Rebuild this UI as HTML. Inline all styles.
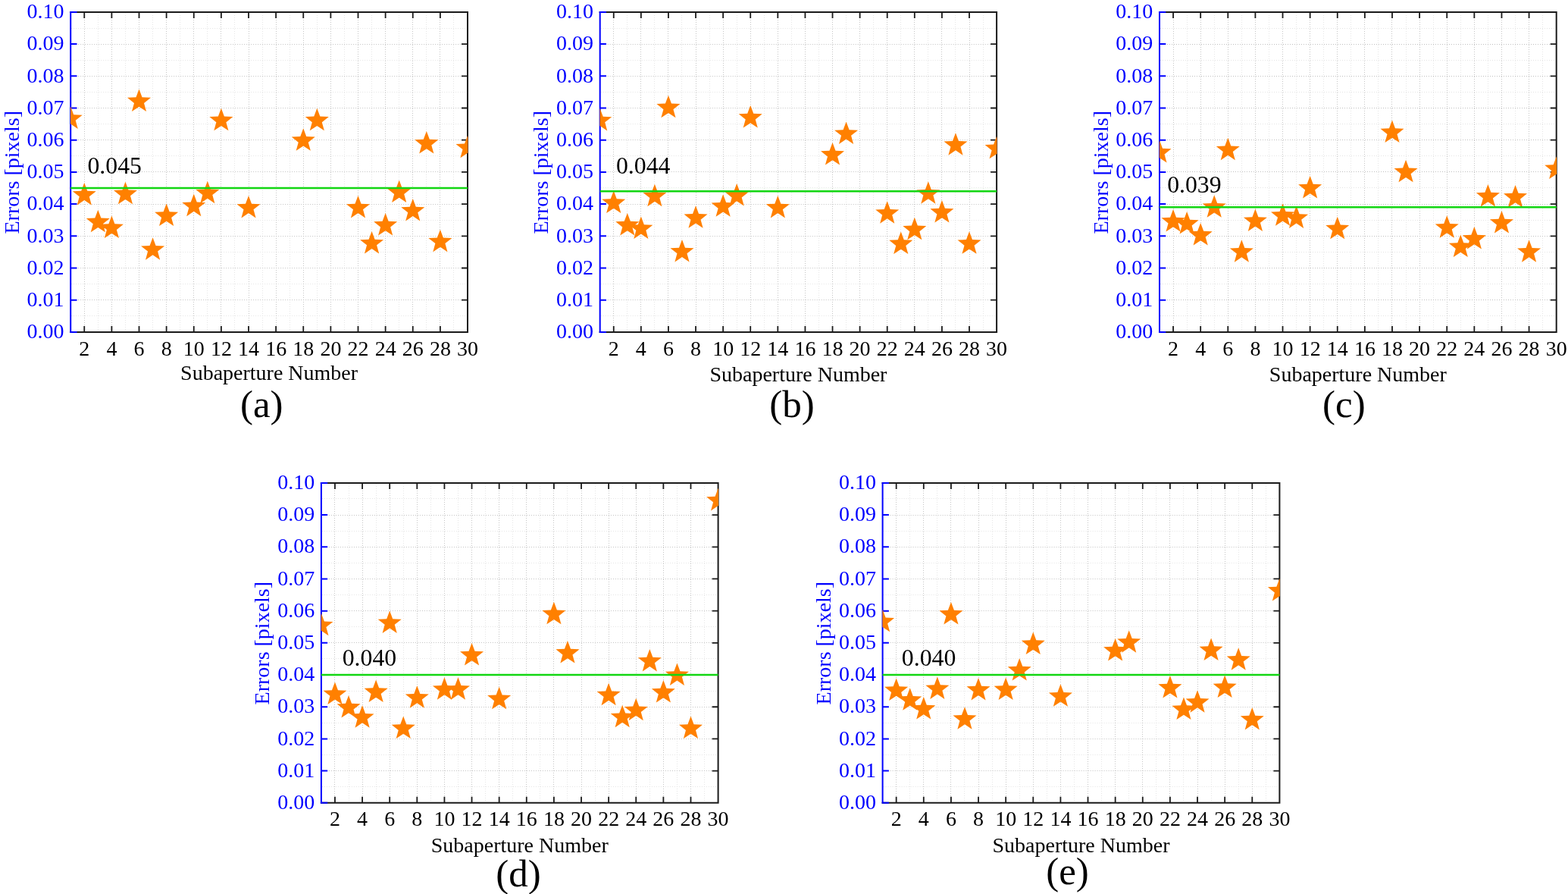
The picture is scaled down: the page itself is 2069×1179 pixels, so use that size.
<!DOCTYPE html>
<html><head><meta charset="utf-8"><title>Subaperture errors</title><style>
html,body{margin:0;padding:0;background:#fff;}
svg{display:block;}
text{font-family:"Liberation Serif","Times New Roman",serif;}
.tk{font-size:28px;}
.ttl{font-size:28px;}
.mn{font-size:31.8px;}
.pl{font-size:51px;}
</style></head><body>
<svg width="2069" height="1179" viewBox="0 0 2069 1179">
<rect width="100%" height="100%" fill="#fff"/>
<defs>
<clipPath id="clipa"><rect x="93" y="15.3" width="524.4" height="423.2"/></clipPath>
<clipPath id="clipb"><rect x="791.5" y="15.3" width="524" height="423.2"/></clipPath>
<clipPath id="clipc"><rect x="1529.8" y="15.3" width="524.3" height="423.2"/></clipPath>
<clipPath id="clipd"><rect x="423.7" y="636.3" width="524.3" height="423.1"/></clipPath>
<clipPath id="clipe"><rect x="1164.4" y="636.3" width="524.4" height="423.1"/></clipPath>
</defs>
<g id="panel-a">
<path d="M129.5 16.9V436.9M165.5 16.9V436.9M201.5 16.9V436.9M237.5 16.9V436.9M273.5 16.9V436.9M309.5 16.9V436.9M346.5 16.9V436.9M382.5 16.9V436.9M418.5 16.9V436.9M454.5 16.9V436.9M490.5 16.9V436.9M526.5 16.9V436.9M562.5 16.9V436.9M598.5 16.9V436.9M94.2 416.5H616M94.2 374.5H616M94.2 332.5H616M94.2 290.5H616M94.2 247.5H616M94.2 205.5H616M94.2 163.5H616M94.2 121.5H616M94.2 79.5H616M94.2 37.5H616" stroke="#e4e4e4" stroke-width="1" stroke-dasharray="1 2" fill="none"/>
<path d="M111.5 16.9V436.9M147.5 16.9V436.9M183.5 16.9V436.9M219.5 16.9V436.9M255.5 16.9V436.9M291.5 16.9V436.9M328.5 16.9V436.9M364.5 16.9V436.9M400.5 16.9V436.9M436.5 16.9V436.9M472.5 16.9V436.9M508.5 16.9V436.9M544.5 16.9V436.9M580.5 16.9V436.9M94.2 395.5H616M94.2 353.5H616M94.2 311.5H616M94.2 269.5H616M94.2 226.5H616M94.2 184.5H616M94.2 142.5H616M94.2 100.5H616M94.2 58.5H616" stroke="#c0c0c0" stroke-width="1" stroke-dasharray="1 2" fill="none"/>
<path d="M93.2 15.9H617V437.9H93.2" stroke="#1a1a1a" stroke-width="2" fill="none" stroke-linejoin="miter" stroke-linecap="square"/>
<path d="M111.26 15.9v8M111.26 437.9v-8M147.39 15.9v8M147.39 437.9v-8M183.51 15.9v8M183.51 437.9v-8M219.63 15.9v8M219.63 437.9v-8M255.76 15.9v8M255.76 437.9v-8M291.88 15.9v8M291.88 437.9v-8M328.01 15.9v8M328.01 437.9v-8M364.13 15.9v8M364.13 437.9v-8M400.26 15.9v8M400.26 437.9v-8M436.38 15.9v8M436.38 437.9v-8M472.5 15.9v8M472.5 437.9v-8M508.63 15.9v8M508.63 437.9v-8M544.75 15.9v8M544.75 437.9v-8M580.88 15.9v8M580.88 437.9v-8M617 395.7h-8M617 353.5h-8M617 311.3h-8M617 269.1h-8M617 226.9h-8M617 184.7h-8M617 142.5h-8M617 100.3h-8M617 58.1h-8" stroke="#1a1a1a" stroke-width="1.8" fill="none"/>
<path d="M93.2 14.9V438.9M93.2 437.9h8.3M93.2 395.7h8.3M93.2 353.5h8.3M93.2 311.3h8.3M93.2 269.1h8.3M93.2 226.9h8.3M93.2 184.7h8.3M93.2 142.5h8.3M93.2 100.3h8.3M93.2 58.1h8.3M93.2 15.9h8.3" stroke="#0000ff" stroke-width="2" fill="none"/>
<path d="M93.20 140.45 L97.22 151.21 L108.70 151.71 L99.71 158.87 L102.78 169.94 L93.20 163.60 L83.62 169.94 L86.69 158.87 L77.70 151.71 L89.18 151.21ZM111.26 240.90 L115.29 251.66 L126.76 252.16 L117.77 259.32 L120.84 270.39 L111.26 264.05 L101.68 270.39 L104.75 259.32 L95.76 252.16 L107.24 251.66ZM129.32 276.80 L133.35 287.56 L144.83 288.06 L135.84 295.22 L138.91 306.29 L129.32 299.95 L119.74 306.29 L122.81 295.22 L113.82 288.06 L125.30 287.56ZM147.39 284.60 L151.41 295.36 L162.89 295.86 L153.90 303.02 L156.97 314.09 L147.39 307.75 L137.81 314.09 L140.88 303.02 L131.88 295.86 L143.36 295.36ZM165.45 239.80 L169.47 250.56 L180.95 251.06 L171.96 258.22 L175.03 269.29 L165.45 262.95 L155.87 269.29 L158.94 258.22 L149.95 251.06 L161.42 250.56ZM183.51 117.60 L187.53 128.36 L199.01 128.86 L190.02 136.02 L193.09 147.09 L183.51 140.75 L173.93 147.09 L177.00 136.02 L168.01 128.86 L179.49 128.36ZM201.57 313.20 L205.60 323.96 L217.07 324.46 L208.08 331.62 L211.15 342.69 L201.57 336.35 L191.99 342.69 L195.06 331.62 L186.07 324.46 L197.55 323.96ZM219.63 268.50 L223.66 279.26 L235.14 279.76 L226.15 286.92 L229.22 297.99 L219.63 291.65 L210.05 297.99 L213.12 286.92 L204.13 279.76 L215.61 279.26ZM255.76 255.70 L259.78 266.46 L271.26 266.96 L262.27 274.12 L265.34 285.19 L255.76 278.85 L246.18 285.19 L249.25 274.12 L240.26 266.96 L251.73 266.46ZM273.82 238.70 L277.84 249.46 L289.32 249.96 L280.33 257.12 L283.40 268.19 L273.82 261.85 L264.24 268.19 L267.31 257.12 L258.32 249.96 L269.80 249.46ZM291.88 142.80 L295.91 153.56 L307.38 154.06 L298.39 161.22 L301.46 172.29 L291.88 165.95 L282.30 172.29 L285.37 161.22 L276.38 154.06 L287.86 153.56ZM328.01 257.90 L332.03 268.66 L343.51 269.16 L334.52 276.32 L337.59 287.39 L328.01 281.05 L318.43 287.39 L321.50 276.32 L312.50 269.16 L323.98 268.66ZM400.26 169.30 L404.28 180.06 L415.76 180.56 L406.77 187.72 L409.84 198.79 L400.26 192.45 L390.67 198.79 L393.74 187.72 L384.75 180.56 L396.23 180.06ZM418.32 142.80 L422.34 153.56 L433.82 154.06 L424.83 161.22 L427.90 172.29 L418.32 165.95 L408.74 172.29 L411.81 161.22 L402.82 154.06 L414.29 153.56ZM472.50 257.90 L476.53 268.66 L488.01 269.16 L479.01 276.32 L482.08 287.39 L472.50 281.05 L462.92 287.39 L465.99 276.32 L457.00 269.16 L468.48 268.66ZM490.57 304.90 L494.59 315.66 L506.07 316.16 L497.08 323.32 L500.15 334.39 L490.57 328.05 L480.98 334.39 L484.05 323.32 L475.06 316.16 L486.54 315.66ZM508.63 281.10 L512.65 291.86 L524.13 292.36 L515.14 299.52 L518.21 310.59 L508.63 304.25 L499.05 310.59 L502.12 299.52 L493.13 292.36 L504.60 291.86ZM526.69 237.60 L530.71 248.36 L542.19 248.86 L533.20 256.02 L536.27 267.09 L526.69 260.75 L517.11 267.09 L520.18 256.02 L511.19 248.86 L522.67 248.36ZM544.75 261.90 L548.78 272.66 L560.25 273.16 L551.26 280.32 L554.33 291.39 L544.75 285.05 L535.17 291.39 L538.24 280.32 L529.25 273.16 L540.73 272.66ZM562.81 173.00 L566.84 183.76 L578.32 184.26 L569.32 191.42 L572.39 202.49 L562.81 196.15 L553.23 202.49 L556.30 191.42 L547.31 184.26 L558.79 183.76ZM580.88 302.70 L584.90 313.46 L596.38 313.96 L587.39 321.12 L590.46 332.19 L580.88 325.85 L571.29 332.19 L574.36 321.12 L565.37 313.96 L576.85 313.46ZM617.00 178.70 L621.02 189.46 L632.50 189.96 L623.51 197.12 L626.58 208.19 L617.00 201.85 L607.42 208.19 L610.49 197.12 L601.50 189.96 L612.98 189.46Z" fill="#ff8000" clip-path="url(#clipa)"/>
<path d="M93.2 248H617" stroke="#12d612" stroke-width="2.4" fill="none"/>
<text class="tk" x="84.5" y="446.1" text-anchor="end" fill="#0000ff">0.00</text>
<text class="tk" x="84.5" y="403.9" text-anchor="end" fill="#0000ff">0.01</text>
<text class="tk" x="84.5" y="361.7" text-anchor="end" fill="#0000ff">0.02</text>
<text class="tk" x="84.5" y="319.5" text-anchor="end" fill="#0000ff">0.03</text>
<text class="tk" x="84.5" y="277.3" text-anchor="end" fill="#0000ff">0.04</text>
<text class="tk" x="84.5" y="235.1" text-anchor="end" fill="#0000ff">0.05</text>
<text class="tk" x="84.5" y="192.9" text-anchor="end" fill="#0000ff">0.06</text>
<text class="tk" x="84.5" y="150.7" text-anchor="end" fill="#0000ff">0.07</text>
<text class="tk" x="84.5" y="108.5" text-anchor="end" fill="#0000ff">0.08</text>
<text class="tk" x="84.5" y="66.3" text-anchor="end" fill="#0000ff">0.09</text>
<text class="tk" x="84.5" y="24.1" text-anchor="end" fill="#0000ff">0.10</text>
<text class="tk" x="111.26" y="468.5" text-anchor="middle" fill="#000">2</text>
<text class="tk" x="147.39" y="468.5" text-anchor="middle" fill="#000">4</text>
<text class="tk" x="183.51" y="468.5" text-anchor="middle" fill="#000">6</text>
<text class="tk" x="219.63" y="468.5" text-anchor="middle" fill="#000">8</text>
<text class="tk" x="255.76" y="468.5" text-anchor="middle" fill="#000">10</text>
<text class="tk" x="291.88" y="468.5" text-anchor="middle" fill="#000">12</text>
<text class="tk" x="328.01" y="468.5" text-anchor="middle" fill="#000">14</text>
<text class="tk" x="364.13" y="468.5" text-anchor="middle" fill="#000">16</text>
<text class="tk" x="400.26" y="468.5" text-anchor="middle" fill="#000">18</text>
<text class="tk" x="436.38" y="468.5" text-anchor="middle" fill="#000">20</text>
<text class="tk" x="472.5" y="468.5" text-anchor="middle" fill="#000">22</text>
<text class="tk" x="508.63" y="468.5" text-anchor="middle" fill="#000">24</text>
<text class="tk" x="544.75" y="468.5" text-anchor="middle" fill="#000">26</text>
<text class="tk" x="580.88" y="468.5" text-anchor="middle" fill="#000">28</text>
<text class="tk" x="617" y="468.5" text-anchor="middle" fill="#000">30</text>
<text class="ttl" x="355.1" y="500.9" text-anchor="middle" fill="#000">Subaperture Number</text>
<text class="ttl" transform="translate(24.7 227.25) rotate(-90)" x="0" y="0" text-anchor="middle" fill="#0000ff">Errors [pixels]</text>
<text class="mn" x="115.43" y="229" fill="#000">0.045</text>
<text class="pl" x="345.3" y="550.4" text-anchor="middle" fill="#000">(a)</text>
</g>
<g id="panel-b">
<path d="M827.5 16.9V436.9M863.5 16.9V436.9M899.5 16.9V436.9M936.5 16.9V436.9M972.5 16.9V436.9M1008.5 16.9V436.9M1044.5 16.9V436.9M1080.5 16.9V436.9M1116.5 16.9V436.9M1152.5 16.9V436.9M1188.5 16.9V436.9M1224.5 16.9V436.9M1260.5 16.9V436.9M1297.5 16.9V436.9M792.7 416.5H1314.1M792.7 374.5H1314.1M792.7 332.5H1314.1M792.7 290.5H1314.1M792.7 247.5H1314.1M792.7 205.5H1314.1M792.7 163.5H1314.1M792.7 121.5H1314.1M792.7 79.5H1314.1M792.7 37.5H1314.1" stroke="#e4e4e4" stroke-width="1" stroke-dasharray="1 2" fill="none"/>
<path d="M809.5 16.9V436.9M845.5 16.9V436.9M881.5 16.9V436.9M918.5 16.9V436.9M954.5 16.9V436.9M990.5 16.9V436.9M1026.5 16.9V436.9M1062.5 16.9V436.9M1098.5 16.9V436.9M1134.5 16.9V436.9M1170.5 16.9V436.9M1206.5 16.9V436.9M1242.5 16.9V436.9M1279.5 16.9V436.9M792.7 395.5H1314.1M792.7 353.5H1314.1M792.7 311.5H1314.1M792.7 269.5H1314.1M792.7 226.5H1314.1M792.7 184.5H1314.1M792.7 142.5H1314.1M792.7 100.5H1314.1M792.7 58.5H1314.1" stroke="#c0c0c0" stroke-width="1" stroke-dasharray="1 2" fill="none"/>
<path d="M791.7 15.9H1315.1V437.9H791.7" stroke="#1a1a1a" stroke-width="2" fill="none" stroke-linejoin="miter" stroke-linecap="square"/>
<path d="M809.75 15.9v8M809.75 437.9v-8M845.84 15.9v8M845.84 437.9v-8M881.94 15.9v8M881.94 437.9v-8M918.04 15.9v8M918.04 437.9v-8M954.13 15.9v8M954.13 437.9v-8M990.23 15.9v8M990.23 437.9v-8M1026.33 15.9v8M1026.33 437.9v-8M1062.42 15.9v8M1062.42 437.9v-8M1098.52 15.9v8M1098.52 437.9v-8M1134.62 15.9v8M1134.62 437.9v-8M1170.71 15.9v8M1170.71 437.9v-8M1206.81 15.9v8M1206.81 437.9v-8M1242.91 15.9v8M1242.91 437.9v-8M1279 15.9v8M1279 437.9v-8M1315.1 395.7h-8M1315.1 353.5h-8M1315.1 311.3h-8M1315.1 269.1h-8M1315.1 226.9h-8M1315.1 184.7h-8M1315.1 142.5h-8M1315.1 100.3h-8M1315.1 58.1h-8" stroke="#1a1a1a" stroke-width="1.8" fill="none"/>
<path d="M791.7 14.9V438.9M791.7 437.9h8.3M791.7 395.7h8.3M791.7 353.5h8.3M791.7 311.3h8.3M791.7 269.1h8.3M791.7 226.9h8.3M791.7 184.7h8.3M791.7 142.5h8.3M791.7 100.3h8.3M791.7 58.1h8.3M791.7 15.9h8.3" stroke="#0000ff" stroke-width="2" fill="none"/>
<path d="M791.70 142.90 L795.72 153.66 L807.20 154.16 L798.21 161.32 L801.28 172.39 L791.70 166.05 L782.12 172.39 L785.19 161.32 L776.20 154.16 L787.68 153.66ZM809.75 251.50 L813.77 262.26 L825.25 262.76 L816.26 269.92 L819.33 280.99 L809.75 274.65 L800.17 280.99 L803.24 269.92 L794.25 262.76 L805.72 262.26ZM827.80 281.00 L831.82 291.76 L843.30 292.26 L834.31 299.42 L837.38 310.49 L827.80 304.15 L818.22 310.49 L821.29 299.42 L812.29 292.26 L823.77 291.76ZM845.84 285.40 L849.87 296.16 L861.35 296.66 L852.36 303.82 L855.43 314.89 L845.84 308.55 L836.26 314.89 L839.33 303.82 L830.34 296.66 L841.82 296.16ZM863.89 242.70 L867.92 253.46 L879.40 253.96 L870.40 261.12 L873.47 272.19 L863.89 265.85 L854.31 272.19 L857.38 261.12 L848.39 253.96 L859.87 253.46ZM881.94 125.80 L885.97 136.56 L897.44 137.06 L888.45 144.22 L891.52 155.29 L881.94 148.95 L872.36 155.29 L875.43 144.22 L866.44 137.06 L877.92 136.56ZM899.99 315.90 L904.01 326.66 L915.49 327.16 L906.50 334.32 L909.57 345.39 L899.99 339.05 L890.41 345.39 L893.48 334.32 L884.49 327.16 L895.97 326.66ZM918.04 271.30 L922.06 282.06 L933.54 282.56 L924.55 289.72 L927.62 300.79 L918.04 294.45 L908.46 300.79 L911.53 289.72 L902.54 282.56 L914.01 282.06ZM954.13 256.30 L958.16 267.06 L969.64 267.56 L960.65 274.72 L963.72 285.79 L954.13 279.45 L944.55 285.79 L947.62 274.72 L938.63 267.56 L950.11 267.06ZM972.18 242.00 L976.21 252.76 L987.68 253.26 L978.69 260.42 L981.76 271.49 L972.18 265.15 L962.60 271.49 L965.67 260.42 L956.68 253.26 L968.16 252.76ZM990.23 139.00 L994.26 149.76 L1005.73 150.26 L996.74 157.42 L999.81 168.49 L990.23 162.15 L980.65 168.49 L983.72 157.42 L974.73 150.26 L986.21 149.76ZM1026.33 257.90 L1030.35 268.66 L1041.83 269.16 L1032.84 276.32 L1035.91 287.39 L1026.33 281.05 L1016.75 287.39 L1019.82 276.32 L1010.83 269.16 L1022.30 268.66ZM1098.52 188.00 L1102.54 198.76 L1114.02 199.26 L1105.03 206.42 L1108.10 217.49 L1098.52 211.15 L1088.94 217.49 L1092.01 206.42 L1083.02 199.26 L1094.50 198.76ZM1116.57 160.40 L1120.59 171.16 L1132.07 171.66 L1123.08 178.82 L1126.15 189.89 L1116.57 183.55 L1106.99 189.89 L1110.06 178.82 L1101.07 171.66 L1112.54 171.16ZM1170.71 265.20 L1174.74 275.96 L1186.22 276.46 L1177.22 283.62 L1180.29 294.69 L1170.71 288.35 L1161.13 294.69 L1164.20 283.62 L1155.21 276.46 L1166.69 275.96ZM1188.76 305.60 L1192.79 316.36 L1204.26 316.86 L1195.27 324.02 L1198.34 335.09 L1188.76 328.75 L1179.18 335.09 L1182.25 324.02 L1173.26 316.86 L1184.74 316.36ZM1206.81 286.80 L1210.83 297.56 L1222.31 298.06 L1213.32 305.22 L1216.39 316.29 L1206.81 309.95 L1197.23 316.29 L1200.30 305.22 L1191.31 298.06 L1202.79 297.56ZM1224.86 239.20 L1228.88 249.96 L1240.36 250.46 L1231.37 257.62 L1234.44 268.69 L1224.86 262.35 L1215.28 268.69 L1218.35 257.62 L1209.36 250.46 L1220.83 249.96ZM1242.91 264.10 L1246.93 274.86 L1258.41 275.36 L1249.42 282.52 L1252.49 293.59 L1242.91 287.25 L1233.33 293.59 L1236.40 282.52 L1227.40 275.36 L1238.88 274.86ZM1260.96 175.20 L1264.98 185.96 L1276.46 186.46 L1267.47 193.62 L1270.54 204.69 L1260.96 198.35 L1251.37 204.69 L1254.44 193.62 L1245.45 186.46 L1256.93 185.96ZM1279.00 305.30 L1283.03 316.06 L1294.51 316.56 L1285.51 323.72 L1288.58 334.79 L1279.00 328.45 L1269.42 334.79 L1272.49 323.72 L1263.50 316.56 L1274.98 316.06ZM1315.10 179.80 L1319.12 190.56 L1330.60 191.06 L1321.61 198.22 L1324.68 209.29 L1315.10 202.95 L1305.52 209.29 L1308.59 198.22 L1299.60 191.06 L1311.08 190.56Z" fill="#ff8000" clip-path="url(#clipb)"/>
<path d="M791.7 252.22H1315.1" stroke="#12d612" stroke-width="2.4" fill="none"/>
<text class="tk" x="783" y="446.1" text-anchor="end" fill="#0000ff">0.00</text>
<text class="tk" x="783" y="403.9" text-anchor="end" fill="#0000ff">0.01</text>
<text class="tk" x="783" y="361.7" text-anchor="end" fill="#0000ff">0.02</text>
<text class="tk" x="783" y="319.5" text-anchor="end" fill="#0000ff">0.03</text>
<text class="tk" x="783" y="277.3" text-anchor="end" fill="#0000ff">0.04</text>
<text class="tk" x="783" y="235.1" text-anchor="end" fill="#0000ff">0.05</text>
<text class="tk" x="783" y="192.9" text-anchor="end" fill="#0000ff">0.06</text>
<text class="tk" x="783" y="150.7" text-anchor="end" fill="#0000ff">0.07</text>
<text class="tk" x="783" y="108.5" text-anchor="end" fill="#0000ff">0.08</text>
<text class="tk" x="783" y="66.3" text-anchor="end" fill="#0000ff">0.09</text>
<text class="tk" x="783" y="24.1" text-anchor="end" fill="#0000ff">0.10</text>
<text class="tk" x="809.75" y="468.5" text-anchor="middle" fill="#000">2</text>
<text class="tk" x="845.84" y="468.5" text-anchor="middle" fill="#000">4</text>
<text class="tk" x="881.94" y="468.5" text-anchor="middle" fill="#000">6</text>
<text class="tk" x="918.04" y="468.5" text-anchor="middle" fill="#000">8</text>
<text class="tk" x="954.13" y="468.5" text-anchor="middle" fill="#000">10</text>
<text class="tk" x="990.23" y="468.5" text-anchor="middle" fill="#000">12</text>
<text class="tk" x="1026.33" y="468.5" text-anchor="middle" fill="#000">14</text>
<text class="tk" x="1062.42" y="468.5" text-anchor="middle" fill="#000">16</text>
<text class="tk" x="1098.52" y="468.5" text-anchor="middle" fill="#000">18</text>
<text class="tk" x="1134.62" y="468.5" text-anchor="middle" fill="#000">20</text>
<text class="tk" x="1170.71" y="468.5" text-anchor="middle" fill="#000">22</text>
<text class="tk" x="1206.81" y="468.5" text-anchor="middle" fill="#000">24</text>
<text class="tk" x="1242.91" y="468.5" text-anchor="middle" fill="#000">26</text>
<text class="tk" x="1279" y="468.5" text-anchor="middle" fill="#000">28</text>
<text class="tk" x="1315.1" y="468.5" text-anchor="middle" fill="#000">30</text>
<text class="ttl" x="1053.4" y="502.7" text-anchor="middle" fill="#000">Subaperture Number</text>
<text class="ttl" transform="translate(723.2 227.25) rotate(-90)" x="0" y="0" text-anchor="middle" fill="#0000ff">Errors [pixels]</text>
<text class="mn" x="812.93" y="229" fill="#000">0.044</text>
<text class="pl" x="1045" y="550.4" text-anchor="middle" fill="#000">(b)</text>
</g>
<g id="panel-c">
<path d="M1566.5 16.9V436.9M1602.5 16.9V436.9M1638.5 16.9V436.9M1674.5 16.9V436.9M1710.5 16.9V436.9M1746.5 16.9V436.9M1782.5 16.9V436.9M1818.5 16.9V436.9M1855.5 16.9V436.9M1891.5 16.9V436.9M1927.5 16.9V436.9M1963.5 16.9V436.9M1999.5 16.9V436.9M2035.5 16.9V436.9M1531 416.5H2052.7M1531 374.5H2052.7M1531 332.5H2052.7M1531 290.5H2052.7M1531 247.5H2052.7M1531 205.5H2052.7M1531 163.5H2052.7M1531 121.5H2052.7M1531 79.5H2052.7M1531 37.5H2052.7" stroke="#e4e4e4" stroke-width="1" stroke-dasharray="1 2" fill="none"/>
<path d="M1548.5 16.9V436.9M1584.5 16.9V436.9M1620.5 16.9V436.9M1656.5 16.9V436.9M1692.5 16.9V436.9M1728.5 16.9V436.9M1764.5 16.9V436.9M1800.5 16.9V436.9M1836.5 16.9V436.9M1873.5 16.9V436.9M1909.5 16.9V436.9M1945.5 16.9V436.9M1981.5 16.9V436.9M2017.5 16.9V436.9M1531 395.5H2052.7M1531 353.5H2052.7M1531 311.5H2052.7M1531 269.5H2052.7M1531 226.5H2052.7M1531 184.5H2052.7M1531 142.5H2052.7M1531 100.5H2052.7M1531 58.5H2052.7" stroke="#c0c0c0" stroke-width="1" stroke-dasharray="1 2" fill="none"/>
<path d="M1530 15.9H2053.7V437.9H1530" stroke="#1a1a1a" stroke-width="2" fill="none" stroke-linejoin="miter" stroke-linecap="square"/>
<path d="M1548.06 15.9v8M1548.06 437.9v-8M1584.18 15.9v8M1584.18 437.9v-8M1620.29 15.9v8M1620.29 437.9v-8M1656.41 15.9v8M1656.41 437.9v-8M1692.53 15.9v8M1692.53 437.9v-8M1728.64 15.9v8M1728.64 437.9v-8M1764.76 15.9v8M1764.76 437.9v-8M1800.88 15.9v8M1800.88 437.9v-8M1837 15.9v8M1837 437.9v-8M1873.11 15.9v8M1873.11 437.9v-8M1909.23 15.9v8M1909.23 437.9v-8M1945.35 15.9v8M1945.35 437.9v-8M1981.47 15.9v8M1981.47 437.9v-8M2017.58 15.9v8M2017.58 437.9v-8M2053.7 395.7h-8M2053.7 353.5h-8M2053.7 311.3h-8M2053.7 269.1h-8M2053.7 226.9h-8M2053.7 184.7h-8M2053.7 142.5h-8M2053.7 100.3h-8M2053.7 58.1h-8" stroke="#1a1a1a" stroke-width="1.8" fill="none"/>
<path d="M1530 14.9V438.9M1530 437.9h8.3M1530 395.7h8.3M1530 353.5h8.3M1530 311.3h8.3M1530 269.1h8.3M1530 226.9h8.3M1530 184.7h8.3M1530 142.5h8.3M1530 100.3h8.3M1530 58.1h8.3M1530 15.9h8.3" stroke="#0000ff" stroke-width="2" fill="none"/>
<path d="M1530.00 185.10 L1534.02 195.86 L1545.50 196.36 L1536.51 203.52 L1539.58 214.59 L1530.00 208.25 L1520.42 214.59 L1523.49 203.52 L1514.50 196.36 L1525.98 195.86ZM1548.06 276.10 L1552.08 286.86 L1563.56 287.36 L1554.57 294.52 L1557.64 305.59 L1548.06 299.25 L1538.48 305.59 L1541.55 294.52 L1532.56 287.36 L1544.03 286.86ZM1566.12 279.10 L1570.14 289.86 L1581.62 290.36 L1572.63 297.52 L1575.70 308.59 L1566.12 302.25 L1556.54 308.59 L1559.61 297.52 L1550.62 290.36 L1562.09 289.86ZM1584.18 294.10 L1588.20 304.86 L1599.68 305.36 L1590.69 312.52 L1593.76 323.59 L1584.18 317.25 L1574.59 323.59 L1577.66 312.52 L1568.67 305.36 L1580.15 304.86ZM1602.23 257.30 L1606.26 268.06 L1617.74 268.56 L1608.75 275.72 L1611.82 286.79 L1602.23 280.45 L1592.65 286.79 L1595.72 275.72 L1586.73 268.56 L1598.21 268.06ZM1620.29 181.70 L1624.32 192.46 L1635.80 192.96 L1626.80 200.12 L1629.87 211.19 L1620.29 204.85 L1610.71 211.19 L1613.78 200.12 L1604.79 192.96 L1616.27 192.46ZM1638.35 316.20 L1642.38 326.96 L1653.85 327.46 L1644.86 334.62 L1647.93 345.69 L1638.35 339.35 L1628.77 345.69 L1631.84 334.62 L1622.85 327.46 L1634.33 326.96ZM1656.41 275.40 L1660.43 286.16 L1671.91 286.66 L1662.92 293.82 L1665.99 304.89 L1656.41 298.55 L1646.83 304.89 L1649.90 293.82 L1640.91 286.66 L1652.39 286.16ZM1692.53 268.30 L1696.55 279.06 L1708.03 279.56 L1699.04 286.72 L1702.11 297.79 L1692.53 291.45 L1682.95 297.79 L1686.02 286.72 L1677.03 279.56 L1688.50 279.06ZM1710.59 271.40 L1714.61 282.16 L1726.09 282.66 L1717.10 289.82 L1720.17 300.89 L1710.59 294.55 L1701.01 300.89 L1704.08 289.82 L1695.08 282.66 L1706.56 282.16ZM1728.64 232.00 L1732.67 242.76 L1744.15 243.26 L1735.16 250.42 L1738.23 261.49 L1728.64 255.15 L1719.06 261.49 L1722.13 250.42 L1713.14 243.26 L1724.62 242.76ZM1764.76 285.80 L1768.79 296.56 L1780.26 297.06 L1771.27 304.22 L1774.34 315.29 L1764.76 308.95 L1755.18 315.29 L1758.25 304.22 L1749.26 297.06 L1760.74 296.56ZM1837.00 158.50 L1841.02 169.26 L1852.50 169.76 L1843.51 176.92 L1846.58 187.99 L1837.00 181.65 L1827.42 187.99 L1830.49 176.92 L1821.49 169.76 L1832.97 169.26ZM1855.06 210.80 L1859.08 221.56 L1870.56 222.06 L1861.57 229.22 L1864.64 240.29 L1855.06 233.95 L1845.47 240.29 L1848.54 229.22 L1839.55 222.06 L1851.03 221.56ZM1909.23 284.20 L1913.26 294.96 L1924.73 295.46 L1915.74 302.62 L1918.81 313.69 L1909.23 307.35 L1899.65 313.69 L1902.72 302.62 L1893.73 295.46 L1905.21 294.96ZM1927.29 309.50 L1931.31 320.26 L1942.79 320.76 L1933.80 327.92 L1936.87 338.99 L1927.29 332.65 L1917.71 338.99 L1920.78 327.92 L1911.79 320.76 L1923.27 320.26ZM1945.35 299.00 L1949.37 309.76 L1960.85 310.26 L1951.86 317.42 L1954.93 328.49 L1945.35 322.15 L1935.77 328.49 L1938.84 317.42 L1929.85 310.26 L1941.32 309.76ZM1963.41 243.00 L1967.43 253.76 L1978.91 254.26 L1969.92 261.42 L1972.99 272.49 L1963.41 266.15 L1953.83 272.49 L1956.90 261.42 L1947.90 254.26 L1959.38 253.76ZM1981.47 278.00 L1985.49 288.76 L1996.97 289.26 L1987.98 296.42 L1991.05 307.49 L1981.47 301.15 L1971.88 307.49 L1974.95 296.42 L1965.96 289.26 L1977.44 288.76ZM1999.52 244.10 L2003.55 254.86 L2015.03 255.36 L2006.04 262.52 L2009.11 273.59 L1999.52 267.25 L1989.94 273.59 L1993.01 262.52 L1984.02 255.36 L1995.50 254.86ZM2017.58 316.20 L2021.61 326.96 L2033.08 327.46 L2024.09 334.62 L2027.16 345.69 L2017.58 339.35 L2008.00 345.69 L2011.07 334.62 L2002.08 327.46 L2013.56 326.96ZM2053.70 206.60 L2057.72 217.36 L2069.20 217.86 L2060.21 225.02 L2063.28 236.09 L2053.70 229.75 L2044.12 236.09 L2047.19 225.02 L2038.20 217.86 L2049.68 217.36Z" fill="#ff8000" clip-path="url(#clipc)"/>
<path d="M1530 273.32H2053.7" stroke="#12d612" stroke-width="2.4" fill="none"/>
<text class="tk" x="1521.3" y="446.1" text-anchor="end" fill="#0000ff">0.00</text>
<text class="tk" x="1521.3" y="403.9" text-anchor="end" fill="#0000ff">0.01</text>
<text class="tk" x="1521.3" y="361.7" text-anchor="end" fill="#0000ff">0.02</text>
<text class="tk" x="1521.3" y="319.5" text-anchor="end" fill="#0000ff">0.03</text>
<text class="tk" x="1521.3" y="277.3" text-anchor="end" fill="#0000ff">0.04</text>
<text class="tk" x="1521.3" y="235.1" text-anchor="end" fill="#0000ff">0.05</text>
<text class="tk" x="1521.3" y="192.9" text-anchor="end" fill="#0000ff">0.06</text>
<text class="tk" x="1521.3" y="150.7" text-anchor="end" fill="#0000ff">0.07</text>
<text class="tk" x="1521.3" y="108.5" text-anchor="end" fill="#0000ff">0.08</text>
<text class="tk" x="1521.3" y="66.3" text-anchor="end" fill="#0000ff">0.09</text>
<text class="tk" x="1521.3" y="24.1" text-anchor="end" fill="#0000ff">0.10</text>
<text class="tk" x="1548.06" y="468.5" text-anchor="middle" fill="#000">2</text>
<text class="tk" x="1584.18" y="468.5" text-anchor="middle" fill="#000">4</text>
<text class="tk" x="1620.29" y="468.5" text-anchor="middle" fill="#000">6</text>
<text class="tk" x="1656.41" y="468.5" text-anchor="middle" fill="#000">8</text>
<text class="tk" x="1692.53" y="468.5" text-anchor="middle" fill="#000">10</text>
<text class="tk" x="1728.64" y="468.5" text-anchor="middle" fill="#000">12</text>
<text class="tk" x="1764.76" y="468.5" text-anchor="middle" fill="#000">14</text>
<text class="tk" x="1800.88" y="468.5" text-anchor="middle" fill="#000">16</text>
<text class="tk" x="1837" y="468.5" text-anchor="middle" fill="#000">18</text>
<text class="tk" x="1873.11" y="468.5" text-anchor="middle" fill="#000">20</text>
<text class="tk" x="1909.23" y="468.5" text-anchor="middle" fill="#000">22</text>
<text class="tk" x="1945.35" y="468.5" text-anchor="middle" fill="#000">24</text>
<text class="tk" x="1981.47" y="468.5" text-anchor="middle" fill="#000">26</text>
<text class="tk" x="2017.58" y="468.5" text-anchor="middle" fill="#000">28</text>
<text class="tk" x="2053.7" y="468.5" text-anchor="middle" fill="#000">30</text>
<text class="ttl" x="1791.85" y="502.8" text-anchor="middle" fill="#000">Subaperture Number</text>
<text class="ttl" transform="translate(1461.5 227.25) rotate(-90)" x="0" y="0" text-anchor="middle" fill="#0000ff">Errors [pixels]</text>
<text class="mn" x="1540.13" y="254" fill="#000">0.039</text>
<text class="pl" x="1773.4" y="550.3" text-anchor="middle" fill="#000">(c)</text>
</g>
<g id="panel-d">
<path d="M460.5 637.9V1057.8M496.5 637.9V1057.8M532.5 637.9V1057.8M568.5 637.9V1057.8M604.5 637.9V1057.8M640.5 637.9V1057.8M676.5 637.9V1057.8M712.5 637.9V1057.8M748.5 637.9V1057.8M785.5 637.9V1057.8M821.5 637.9V1057.8M857.5 637.9V1057.8M893.5 637.9V1057.8M929.5 637.9V1057.8M424.9 1037.5H946.6M424.9 995.5H946.6M424.9 953.5H946.6M424.9 911.5H946.6M424.9 868.5H946.6M424.9 826.5H946.6M424.9 784.5H946.6M424.9 742.5H946.6M424.9 700.5H946.6M424.9 657.5H946.6" stroke="#e4e4e4" stroke-width="1" stroke-dasharray="1 2" fill="none"/>
<path d="M441.5 637.9V1057.8M478.5 637.9V1057.8M514.5 637.9V1057.8M550.5 637.9V1057.8M586.5 637.9V1057.8M622.5 637.9V1057.8M658.5 637.9V1057.8M694.5 637.9V1057.8M730.5 637.9V1057.8M767.5 637.9V1057.8M803.5 637.9V1057.8M839.5 637.9V1057.8M875.5 637.9V1057.8M911.5 637.9V1057.8M424.9 1016.5H946.6M424.9 974.5H946.6M424.9 932.5H946.6M424.9 890.5H946.6M424.9 847.5H946.6M424.9 805.5H946.6M424.9 763.5H946.6M424.9 721.5H946.6M424.9 679.5H946.6" stroke="#c0c0c0" stroke-width="1" stroke-dasharray="1 2" fill="none"/>
<path d="M423.9 636.9H947.6V1058.8H423.9" stroke="#1a1a1a" stroke-width="2" fill="none" stroke-linejoin="miter" stroke-linecap="square"/>
<path d="M441.96 636.9v8M441.96 1058.8v-8M478.08 636.9v8M478.08 1058.8v-8M514.19 636.9v8M514.19 1058.8v-8M550.31 636.9v8M550.31 1058.8v-8M586.43 636.9v8M586.43 1058.8v-8M622.54 636.9v8M622.54 1058.8v-8M658.66 636.9v8M658.66 1058.8v-8M694.78 636.9v8M694.78 1058.8v-8M730.9 636.9v8M730.9 1058.8v-8M767.01 636.9v8M767.01 1058.8v-8M803.13 636.9v8M803.13 1058.8v-8M839.25 636.9v8M839.25 1058.8v-8M875.37 636.9v8M875.37 1058.8v-8M911.48 636.9v8M911.48 1058.8v-8M947.6 1016.61h-8M947.6 974.42h-8M947.6 932.23h-8M947.6 890.04h-8M947.6 847.85h-8M947.6 805.66h-8M947.6 763.47h-8M947.6 721.28h-8M947.6 679.09h-8" stroke="#1a1a1a" stroke-width="1.8" fill="none"/>
<path d="M423.9 635.9V1059.8M423.9 1058.8h8.3M423.9 1016.61h8.3M423.9 974.42h8.3M423.9 932.23h8.3M423.9 890.04h8.3M423.9 847.85h8.3M423.9 805.66h8.3M423.9 763.47h8.3M423.9 721.28h8.3M423.9 679.09h8.3M423.9 636.9h8.3" stroke="#0000ff" stroke-width="2" fill="none"/>
<path d="M423.90 808.70 L427.92 819.46 L439.40 819.96 L430.41 827.12 L433.48 838.19 L423.90 831.85 L414.32 838.19 L417.39 827.12 L408.40 819.96 L419.88 819.46ZM441.96 899.40 L445.98 910.16 L457.46 910.66 L448.47 917.82 L451.54 928.89 L441.96 922.55 L432.38 928.89 L435.45 917.82 L426.46 910.66 L437.93 910.16ZM460.02 917.00 L464.04 927.76 L475.52 928.26 L466.53 935.42 L469.60 946.49 L460.02 940.15 L450.44 946.49 L453.51 935.42 L444.52 928.26 L455.99 927.76ZM478.08 930.20 L482.10 940.96 L493.58 941.46 L484.59 948.62 L487.66 959.69 L478.08 953.35 L468.49 959.69 L471.56 948.62 L462.57 941.46 L474.05 940.96ZM496.13 896.50 L500.16 907.26 L511.64 907.76 L502.65 914.92 L505.72 925.99 L496.13 919.65 L486.55 925.99 L489.62 914.92 L480.63 907.76 L492.11 907.26ZM514.19 805.40 L518.22 816.16 L529.70 816.66 L520.70 823.82 L523.77 834.89 L514.19 828.55 L504.61 834.89 L507.68 823.82 L498.69 816.66 L510.17 816.16ZM532.25 944.60 L536.28 955.36 L547.75 955.86 L538.76 963.02 L541.83 974.09 L532.25 967.75 L522.67 974.09 L525.74 963.02 L516.75 955.86 L528.23 955.36ZM550.31 904.20 L554.33 914.96 L565.81 915.46 L556.82 922.62 L559.89 933.69 L550.31 927.35 L540.73 933.69 L543.80 922.62 L534.81 915.46 L546.29 914.96ZM586.43 893.20 L590.45 903.96 L601.93 904.46 L592.94 911.62 L596.01 922.69 L586.43 916.35 L576.85 922.69 L579.92 911.62 L570.93 904.46 L582.40 903.96ZM604.49 893.20 L608.51 903.96 L619.99 904.46 L611.00 911.62 L614.07 922.69 L604.49 916.35 L594.91 922.69 L597.98 911.62 L588.98 904.46 L600.46 903.96ZM622.54 848.00 L626.57 858.76 L638.05 859.26 L629.06 866.42 L632.13 877.49 L622.54 871.15 L612.96 877.49 L616.03 866.42 L607.04 859.26 L618.52 858.76ZM658.66 905.80 L662.69 916.56 L674.16 917.06 L665.17 924.22 L668.24 935.29 L658.66 928.95 L649.08 935.29 L652.15 924.22 L643.16 917.06 L654.64 916.56ZM730.90 793.80 L734.92 804.56 L746.40 805.06 L737.41 812.22 L740.48 823.29 L730.90 816.95 L721.32 823.29 L724.39 812.22 L715.39 805.06 L726.87 804.56ZM748.96 845.10 L752.98 855.86 L764.46 856.36 L755.47 863.52 L758.54 874.59 L748.96 868.25 L739.37 874.59 L742.44 863.52 L733.45 856.36 L744.93 855.86ZM803.13 900.70 L807.16 911.46 L818.63 911.96 L809.64 919.12 L812.71 930.19 L803.13 923.85 L793.55 930.19 L796.62 919.12 L787.63 911.96 L799.11 911.46ZM821.19 929.70 L825.21 940.46 L836.69 940.96 L827.70 948.12 L830.77 959.19 L821.19 952.85 L811.61 959.19 L814.68 948.12 L805.69 940.96 L817.17 940.46ZM839.25 920.70 L843.27 931.46 L854.75 931.96 L845.76 939.12 L848.83 950.19 L839.25 943.85 L829.67 950.19 L832.74 939.12 L823.75 931.96 L835.22 931.46ZM857.31 855.90 L861.33 866.66 L872.81 867.16 L863.82 874.32 L866.89 885.39 L857.31 879.05 L847.73 885.39 L850.80 874.32 L841.80 867.16 L853.28 866.66ZM875.37 897.00 L879.39 907.76 L890.87 908.26 L881.88 915.42 L884.95 926.49 L875.37 920.15 L865.78 926.49 L868.85 915.42 L859.86 908.26 L871.34 907.76ZM893.42 874.40 L897.45 885.16 L908.93 885.66 L899.94 892.82 L903.01 903.89 L893.42 897.55 L883.84 903.89 L886.91 892.82 L877.92 885.66 L889.40 885.16ZM911.48 944.60 L915.51 955.36 L926.98 955.86 L917.99 963.02 L921.06 974.09 L911.48 967.75 L901.90 974.09 L904.97 963.02 L895.98 955.86 L907.46 955.36ZM947.60 643.90 L951.62 654.66 L963.10 655.16 L954.11 662.32 L957.18 673.39 L947.60 667.05 L938.02 673.39 L941.09 662.32 L932.10 655.16 L943.58 654.66Z" fill="#ff8000" clip-path="url(#clipd)"/>
<path d="M423.9 890.04H947.6" stroke="#12d612" stroke-width="2.4" fill="none"/>
<text class="tk" x="415.2" y="1067" text-anchor="end" fill="#0000ff">0.00</text>
<text class="tk" x="415.2" y="1024.81" text-anchor="end" fill="#0000ff">0.01</text>
<text class="tk" x="415.2" y="982.62" text-anchor="end" fill="#0000ff">0.02</text>
<text class="tk" x="415.2" y="940.43" text-anchor="end" fill="#0000ff">0.03</text>
<text class="tk" x="415.2" y="898.24" text-anchor="end" fill="#0000ff">0.04</text>
<text class="tk" x="415.2" y="856.05" text-anchor="end" fill="#0000ff">0.05</text>
<text class="tk" x="415.2" y="813.86" text-anchor="end" fill="#0000ff">0.06</text>
<text class="tk" x="415.2" y="771.67" text-anchor="end" fill="#0000ff">0.07</text>
<text class="tk" x="415.2" y="729.48" text-anchor="end" fill="#0000ff">0.08</text>
<text class="tk" x="415.2" y="687.29" text-anchor="end" fill="#0000ff">0.09</text>
<text class="tk" x="415.2" y="645.1" text-anchor="end" fill="#0000ff">0.10</text>
<text class="tk" x="441.96" y="1089.4" text-anchor="middle" fill="#000">2</text>
<text class="tk" x="478.08" y="1089.4" text-anchor="middle" fill="#000">4</text>
<text class="tk" x="514.19" y="1089.4" text-anchor="middle" fill="#000">6</text>
<text class="tk" x="550.31" y="1089.4" text-anchor="middle" fill="#000">8</text>
<text class="tk" x="586.43" y="1089.4" text-anchor="middle" fill="#000">10</text>
<text class="tk" x="622.54" y="1089.4" text-anchor="middle" fill="#000">12</text>
<text class="tk" x="658.66" y="1089.4" text-anchor="middle" fill="#000">14</text>
<text class="tk" x="694.78" y="1089.4" text-anchor="middle" fill="#000">16</text>
<text class="tk" x="730.9" y="1089.4" text-anchor="middle" fill="#000">18</text>
<text class="tk" x="767.01" y="1089.4" text-anchor="middle" fill="#000">20</text>
<text class="tk" x="803.13" y="1089.4" text-anchor="middle" fill="#000">22</text>
<text class="tk" x="839.25" y="1089.4" text-anchor="middle" fill="#000">24</text>
<text class="tk" x="875.37" y="1089.4" text-anchor="middle" fill="#000">26</text>
<text class="tk" x="911.48" y="1089.4" text-anchor="middle" fill="#000">28</text>
<text class="tk" x="947.6" y="1089.4" text-anchor="middle" fill="#000">30</text>
<text class="ttl" x="685.75" y="1123.8" text-anchor="middle" fill="#000">Subaperture Number</text>
<text class="ttl" transform="translate(355.4 848.2) rotate(-90)" x="0" y="0" text-anchor="middle" fill="#0000ff">Errors [pixels]</text>
<text class="mn" x="451.73" y="878.3" fill="#000">0.040</text>
<text class="pl" x="684.1" y="1168.6" text-anchor="middle" fill="#000">(d)</text>
</g>
<g id="panel-e">
<path d="M1200.5 637.9V1057.8M1236.5 637.9V1057.8M1272.5 637.9V1057.8M1309.5 637.9V1057.8M1345.5 637.9V1057.8M1381.5 637.9V1057.8M1417.5 637.9V1057.8M1453.5 637.9V1057.8M1489.5 637.9V1057.8M1525.5 637.9V1057.8M1561.5 637.9V1057.8M1598.5 637.9V1057.8M1634.5 637.9V1057.8M1670.5 637.9V1057.8M1165.6 1037.5H1687.4M1165.6 995.5H1687.4M1165.6 953.5H1687.4M1165.6 911.5H1687.4M1165.6 868.5H1687.4M1165.6 826.5H1687.4M1165.6 784.5H1687.4M1165.6 742.5H1687.4M1165.6 700.5H1687.4M1165.6 657.5H1687.4" stroke="#e4e4e4" stroke-width="1" stroke-dasharray="1 2" fill="none"/>
<path d="M1182.5 637.9V1057.8M1218.5 637.9V1057.8M1254.5 637.9V1057.8M1291.5 637.9V1057.8M1327.5 637.9V1057.8M1363.5 637.9V1057.8M1399.5 637.9V1057.8M1435.5 637.9V1057.8M1471.5 637.9V1057.8M1507.5 637.9V1057.8M1543.5 637.9V1057.8M1580.5 637.9V1057.8M1616.5 637.9V1057.8M1652.5 637.9V1057.8M1165.6 1016.5H1687.4M1165.6 974.5H1687.4M1165.6 932.5H1687.4M1165.6 890.5H1687.4M1165.6 847.5H1687.4M1165.6 805.5H1687.4M1165.6 763.5H1687.4M1165.6 721.5H1687.4M1165.6 679.5H1687.4" stroke="#c0c0c0" stroke-width="1" stroke-dasharray="1 2" fill="none"/>
<path d="M1164.6 636.9H1688.4V1058.8H1164.6" stroke="#1a1a1a" stroke-width="2" fill="none" stroke-linejoin="miter" stroke-linecap="square"/>
<path d="M1182.66 636.9v8M1182.66 1058.8v-8M1218.79 636.9v8M1218.79 1058.8v-8M1254.91 636.9v8M1254.91 1058.8v-8M1291.03 636.9v8M1291.03 1058.8v-8M1327.16 636.9v8M1327.16 1058.8v-8M1363.28 636.9v8M1363.28 1058.8v-8M1399.41 636.9v8M1399.41 1058.8v-8M1435.53 636.9v8M1435.53 1058.8v-8M1471.66 636.9v8M1471.66 1058.8v-8M1507.78 636.9v8M1507.78 1058.8v-8M1543.9 636.9v8M1543.9 1058.8v-8M1580.03 636.9v8M1580.03 1058.8v-8M1616.15 636.9v8M1616.15 1058.8v-8M1652.28 636.9v8M1652.28 1058.8v-8M1688.4 1016.61h-8M1688.4 974.42h-8M1688.4 932.23h-8M1688.4 890.04h-8M1688.4 847.85h-8M1688.4 805.66h-8M1688.4 763.47h-8M1688.4 721.28h-8M1688.4 679.09h-8" stroke="#1a1a1a" stroke-width="1.8" fill="none"/>
<path d="M1164.6 635.9V1059.8M1164.6 1058.8h8.3M1164.6 1016.61h8.3M1164.6 974.42h8.3M1164.6 932.23h8.3M1164.6 890.04h8.3M1164.6 847.85h8.3M1164.6 805.66h8.3M1164.6 763.47h8.3M1164.6 721.28h8.3M1164.6 679.09h8.3M1164.6 636.9h8.3" stroke="#0000ff" stroke-width="2" fill="none"/>
<path d="M1164.60 803.80 L1168.62 814.56 L1180.10 815.06 L1171.11 822.22 L1174.18 833.29 L1164.60 826.95 L1155.02 833.29 L1158.09 822.22 L1149.10 815.06 L1160.58 814.56ZM1182.66 894.50 L1186.69 905.26 L1198.16 905.76 L1189.17 912.92 L1192.24 923.99 L1182.66 917.65 L1173.08 923.99 L1176.15 912.92 L1167.16 905.76 L1178.64 905.26ZM1200.72 907.30 L1204.75 918.06 L1216.23 918.56 L1207.24 925.72 L1210.31 936.79 L1200.72 930.45 L1191.14 936.79 L1194.21 925.72 L1185.22 918.56 L1196.70 918.06ZM1218.79 919.10 L1222.81 929.86 L1234.29 930.36 L1225.30 937.52 L1228.37 948.59 L1218.79 942.25 L1209.21 948.59 L1212.28 937.52 L1203.28 930.36 L1214.76 929.86ZM1236.85 892.40 L1240.87 903.16 L1252.35 903.66 L1243.36 910.82 L1246.43 921.89 L1236.85 915.55 L1227.27 921.89 L1230.34 910.82 L1221.35 903.66 L1232.82 903.16ZM1254.91 794.10 L1258.93 804.86 L1270.41 805.36 L1261.42 812.52 L1264.49 823.59 L1254.91 817.25 L1245.33 823.59 L1248.40 812.52 L1239.41 805.36 L1250.89 804.86ZM1272.97 932.20 L1277.00 942.96 L1288.47 943.46 L1279.48 950.62 L1282.55 961.69 L1272.97 955.35 L1263.39 961.69 L1266.46 950.62 L1257.47 943.46 L1268.95 942.96ZM1291.03 893.90 L1295.06 904.66 L1306.54 905.16 L1297.55 912.32 L1300.62 923.39 L1291.03 917.05 L1281.45 923.39 L1284.52 912.32 L1275.53 905.16 L1287.01 904.66ZM1327.16 893.50 L1331.18 904.26 L1342.66 904.76 L1333.67 911.92 L1336.74 922.99 L1327.16 916.65 L1317.58 922.99 L1320.65 911.92 L1311.66 904.76 L1323.13 904.26ZM1345.22 868.10 L1349.24 878.86 L1360.72 879.36 L1351.73 886.52 L1354.80 897.59 L1345.22 891.25 L1335.64 897.59 L1338.71 886.52 L1329.72 879.36 L1341.20 878.86ZM1363.28 833.60 L1367.31 844.36 L1378.78 844.86 L1369.79 852.02 L1372.86 863.09 L1363.28 856.75 L1353.70 863.09 L1356.77 852.02 L1347.78 844.86 L1359.26 844.36ZM1399.41 902.30 L1403.43 913.06 L1414.91 913.56 L1405.92 920.72 L1408.99 931.79 L1399.41 925.45 L1389.83 931.79 L1392.90 920.72 L1383.90 913.56 L1395.38 913.06ZM1471.66 842.10 L1475.68 852.86 L1487.16 853.36 L1478.17 860.52 L1481.24 871.59 L1471.66 865.25 L1462.07 871.59 L1465.14 860.52 L1456.15 853.36 L1467.63 852.86ZM1489.72 831.20 L1493.74 841.96 L1505.22 842.46 L1496.23 849.62 L1499.30 860.69 L1489.72 854.35 L1480.14 860.69 L1483.21 849.62 L1474.22 842.46 L1485.69 841.96ZM1543.90 891.00 L1547.93 901.76 L1559.41 902.26 L1550.41 909.42 L1553.48 920.49 L1543.90 914.15 L1534.32 920.49 L1537.39 909.42 L1528.40 902.26 L1539.88 901.76ZM1561.97 919.50 L1565.99 930.26 L1577.47 930.76 L1568.48 937.92 L1571.55 948.99 L1561.97 942.65 L1552.38 948.99 L1555.45 937.92 L1546.46 930.76 L1557.94 930.26ZM1580.03 910.20 L1584.05 920.96 L1595.53 921.46 L1586.54 928.62 L1589.61 939.69 L1580.03 933.35 L1570.45 939.69 L1573.52 928.62 L1564.53 921.46 L1576.00 920.96ZM1598.09 841.50 L1602.11 852.26 L1613.59 852.76 L1604.60 859.92 L1607.67 870.99 L1598.09 864.65 L1588.51 870.99 L1591.58 859.92 L1582.59 852.76 L1594.07 852.26ZM1616.15 890.60 L1620.18 901.36 L1631.65 901.86 L1622.66 909.02 L1625.73 920.09 L1616.15 913.75 L1606.57 920.09 L1609.64 909.02 L1600.65 901.86 L1612.13 901.36ZM1634.21 854.20 L1638.24 864.96 L1649.72 865.46 L1640.72 872.62 L1643.79 883.69 L1634.21 877.35 L1624.63 883.69 L1627.70 872.62 L1618.71 865.46 L1630.19 864.96ZM1652.28 932.90 L1656.30 943.66 L1667.78 944.16 L1658.79 951.32 L1661.86 962.39 L1652.28 956.05 L1642.69 962.39 L1645.76 951.32 L1636.77 944.16 L1648.25 943.66ZM1688.40 763.10 L1692.42 773.86 L1703.90 774.36 L1694.91 781.52 L1697.98 792.59 L1688.40 786.25 L1678.82 792.59 L1681.89 781.52 L1672.90 774.36 L1684.38 773.86Z" fill="#ff8000" clip-path="url(#clipe)"/>
<path d="M1164.6 890.04H1688.4" stroke="#12d612" stroke-width="2.4" fill="none"/>
<text class="tk" x="1155.9" y="1067" text-anchor="end" fill="#0000ff">0.00</text>
<text class="tk" x="1155.9" y="1024.81" text-anchor="end" fill="#0000ff">0.01</text>
<text class="tk" x="1155.9" y="982.62" text-anchor="end" fill="#0000ff">0.02</text>
<text class="tk" x="1155.9" y="940.43" text-anchor="end" fill="#0000ff">0.03</text>
<text class="tk" x="1155.9" y="898.24" text-anchor="end" fill="#0000ff">0.04</text>
<text class="tk" x="1155.9" y="856.05" text-anchor="end" fill="#0000ff">0.05</text>
<text class="tk" x="1155.9" y="813.86" text-anchor="end" fill="#0000ff">0.06</text>
<text class="tk" x="1155.9" y="771.67" text-anchor="end" fill="#0000ff">0.07</text>
<text class="tk" x="1155.9" y="729.48" text-anchor="end" fill="#0000ff">0.08</text>
<text class="tk" x="1155.9" y="687.29" text-anchor="end" fill="#0000ff">0.09</text>
<text class="tk" x="1155.9" y="645.1" text-anchor="end" fill="#0000ff">0.10</text>
<text class="tk" x="1182.66" y="1089.4" text-anchor="middle" fill="#000">2</text>
<text class="tk" x="1218.79" y="1089.4" text-anchor="middle" fill="#000">4</text>
<text class="tk" x="1254.91" y="1089.4" text-anchor="middle" fill="#000">6</text>
<text class="tk" x="1291.03" y="1089.4" text-anchor="middle" fill="#000">8</text>
<text class="tk" x="1327.16" y="1089.4" text-anchor="middle" fill="#000">10</text>
<text class="tk" x="1363.28" y="1089.4" text-anchor="middle" fill="#000">12</text>
<text class="tk" x="1399.41" y="1089.4" text-anchor="middle" fill="#000">14</text>
<text class="tk" x="1435.53" y="1089.4" text-anchor="middle" fill="#000">16</text>
<text class="tk" x="1471.66" y="1089.4" text-anchor="middle" fill="#000">18</text>
<text class="tk" x="1507.78" y="1089.4" text-anchor="middle" fill="#000">20</text>
<text class="tk" x="1543.9" y="1089.4" text-anchor="middle" fill="#000">22</text>
<text class="tk" x="1580.03" y="1089.4" text-anchor="middle" fill="#000">24</text>
<text class="tk" x="1616.15" y="1089.4" text-anchor="middle" fill="#000">26</text>
<text class="tk" x="1652.28" y="1089.4" text-anchor="middle" fill="#000">28</text>
<text class="tk" x="1688.4" y="1089.4" text-anchor="middle" fill="#000">30</text>
<text class="ttl" x="1426.5" y="1123.8" text-anchor="middle" fill="#000">Subaperture Number</text>
<text class="ttl" transform="translate(1096.1 848.2) rotate(-90)" x="0" y="0" text-anchor="middle" fill="#0000ff">Errors [pixels]</text>
<text class="mn" x="1189.83" y="877.6" fill="#000">0.040</text>
<text class="pl" x="1408.5" y="1166.2" text-anchor="middle" fill="#000">(e)</text>
</g>
</svg>
</body></html>
